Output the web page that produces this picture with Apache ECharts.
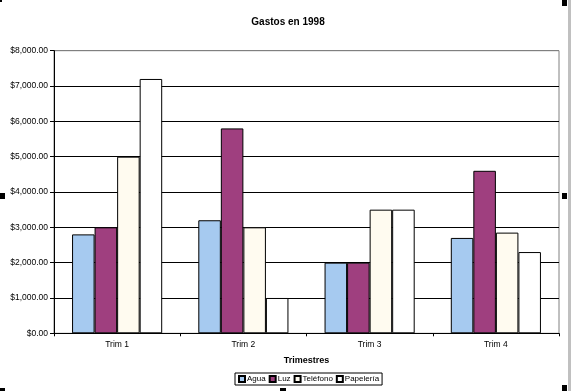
<!DOCTYPE html>
<html>
<head>
<meta charset="utf-8">
<script src="https://cdn.jsdelivr.net/npm/echarts@6/dist/echarts.min.js"></script>
<style>
html,body{margin:0;padding:0;background:#fff;}
#c{width:571px;height:391px;}
</style>
</head>
<body>
<div id="c"></div>
<script>
var categories = ['Trim 1', 'Trim 2', 'Trim 3', 'Trim 4'];
var seriesNames = ['Agua', 'Luz', 'Teléfono', 'Papelería'];
var agua = [2800, 3200, 2000, 2700];
var luz = [3000, 5800, 2000, 4600];
var telefono = [5000, 3000, 3500, 2850];
var papeleria = [7200, 1000, 3500, 2300];
var colors = ['#A6CAF0', '#9F3F7F', '#FFFBF0', '#FFFFFF'];

var font = 'Liberation Sans, Arial, sans-serif';
var chart = echarts.init(document.getElementById('c'), null, {renderer: 'canvas'});

function mkSeries(name, data, color) {
  return {
    name: name, type: 'bar', data: data, barGap: '0%', barCategoryGap: '28.6%',
    itemStyle: {color: color, borderColor: '#000', borderWidth: 1},
    emphasis: {disabled: true}, animation: false
  };
}

var handle = function (x, y, w, h) {
  return {type: 'rect', shape: {x: x, y: y, width: w, height: h}, style: {fill: '#000'}, silent: true};
};

chart.setOption({
  animation: false,
  backgroundColor: '#fff',
  title: {
    text: 'Gastos en 1998', left: 283, top: 12, textAlign: 'center',
    textStyle: {fontFamily: font, fontSize: 10, fontWeight: 'bold', color: '#000'}
  },
  legend: {
    data: seriesNames, left: 235, top: 373, orient: 'horizontal', icon: 'rect',
    itemWidth: 6, itemHeight: 6, itemGap: 3,
    borderColor: '#000', borderWidth: 1, padding: [2, 3, 2, 3],
    textStyle: {fontFamily: font, fontSize: 8, color: '#000', padding: [0, 0, 0, -3]},
    selectedMode: false
  },
  grid: {left: 54, right: 12, top: 50.7, bottom: 57.7, show: true, borderColor: '#808080', borderWidth: 1},
  xAxis: {
    type: 'category', data: categories,
    name: 'Trimestres', nameLocation: 'middle', nameGap: 23,
    nameTextStyle: {fontFamily: font, fontSize: 9, fontWeight: 'bold', color: '#000'},
    axisLine: {lineStyle: {color: '#000', width: 1}},
    axisTick: {show: true, length: 3, lineStyle: {color: '#000'}},
    axisLabel: {fontFamily: font, fontSize: 8.5, color: '#000', margin: 7}
  },
  yAxis: {
    type: 'value', min: 0, max: 8000, interval: 1000,
    axisLine: {show: true, lineStyle: {color: '#000', width: 1}},
    axisTick: {show: true, length: 4, lineStyle: {color: '#000'}},
    axisLabel: {
      fontFamily: font, fontSize: 8.5, color: '#000', margin: 6,
      formatter: function (v) { return '$' + v.toLocaleString('en-US') + '.00'; }
    },
    splitLine: {show: true, lineStyle: {color: ['#000', '#000', '#000', '#000', '#000', '#000', '#000', '#000', '#808080'], width: 1}}
  },
  series: [
    mkSeries(seriesNames[0], agua, colors[0]),
    mkSeries(seriesNames[1], luz, colors[1]),
    mkSeries(seriesNames[2], telefono, colors[2]),
    mkSeries(seriesNames[3], papeleria, colors[3])
  ],
  graphic: [
    {type: 'rect', shape: {x: 568, y: 0, width: 3, height: 391}, style: {fill: '#C0C0C0'}, silent: true},
    handle(0, 0, 2, 2),
    handle(562, 0, 5, 6),
    handle(0, 193, 5, 6),
    handle(562, 193, 5, 6),
    handle(0, 388, 5, 3),
    handle(280, 388, 6, 3),
    handle(562, 385, 5, 6)
  ]
});
</script>
</body>
</html>
